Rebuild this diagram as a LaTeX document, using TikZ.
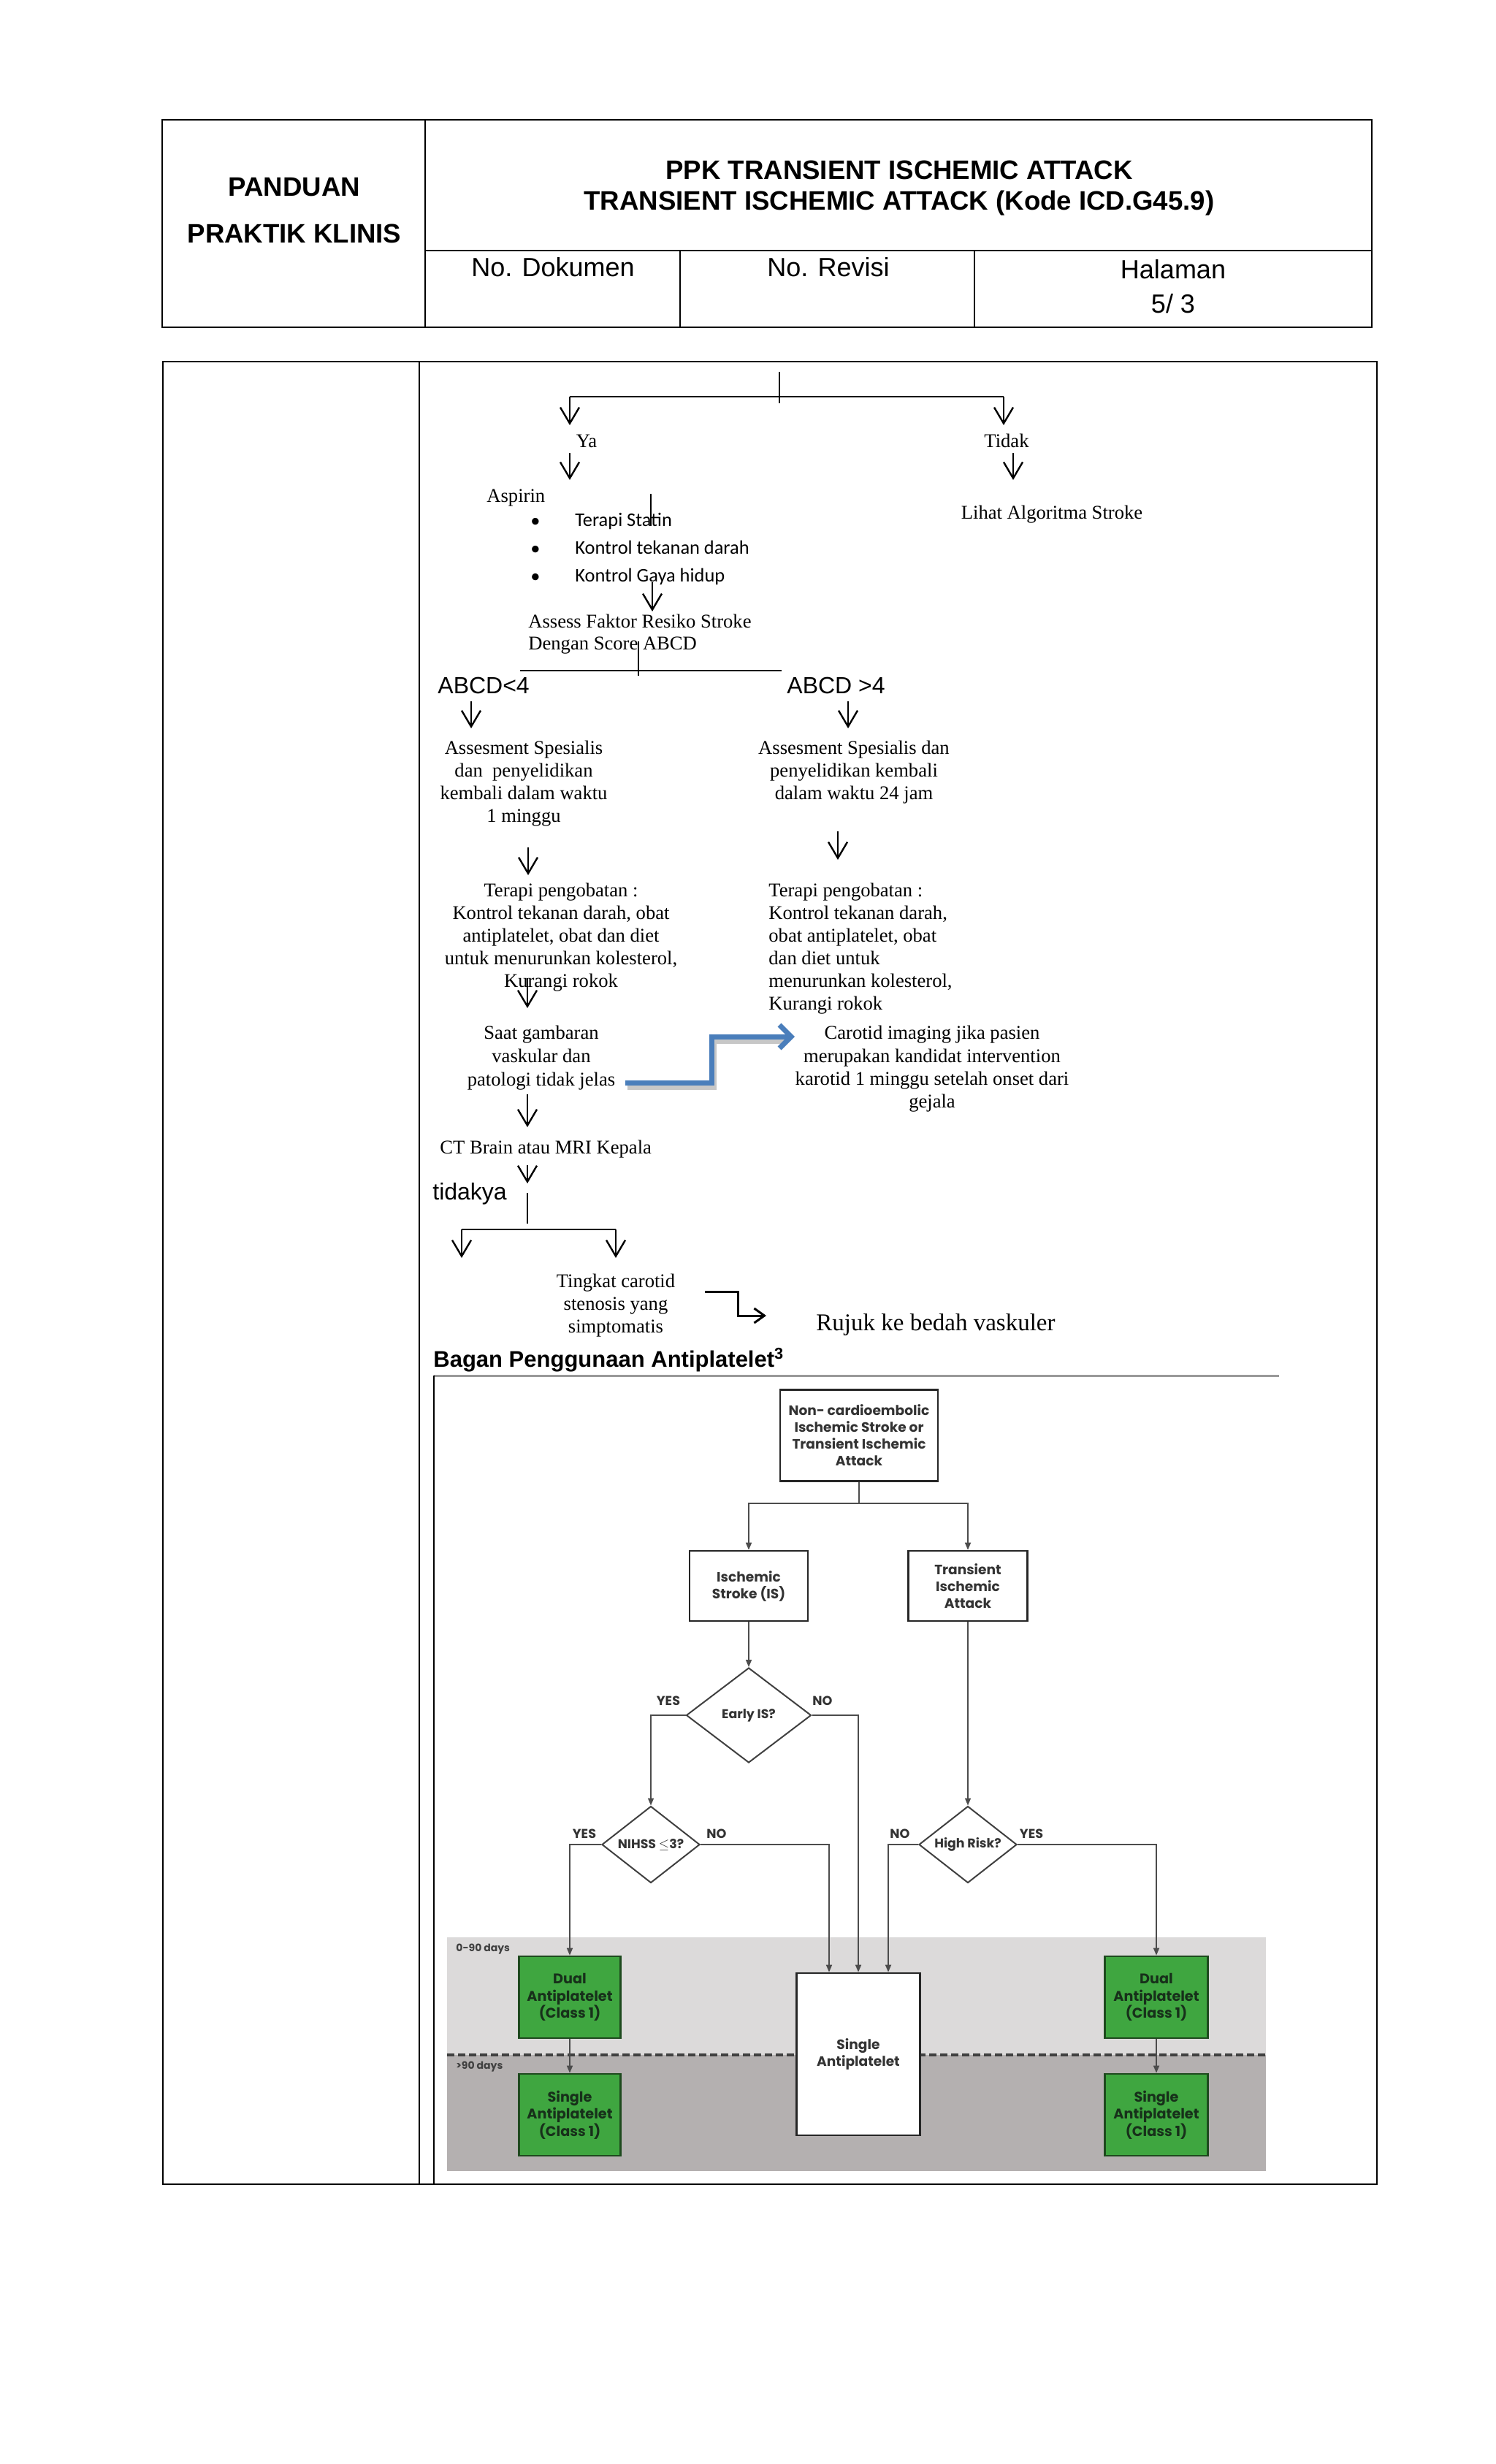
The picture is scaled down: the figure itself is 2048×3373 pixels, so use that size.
\documentclass[tikz,border=0pt]{standalone}
\usepackage{fontspec}
\setmainfont{Liberation Serif}
\newfontfamily\arialf{Liberation Sans}
\newfontfamily\calf{Carlito}
\newfontfamily\gothf{Poppins}
\usetikzlibrary{arrows.meta,shapes.geometric,calc}
\definecolor{cgreen}{HTML}{3FA640}
\definecolor{cgreenD}{HTML}{1E4A1E}
\definecolor{cgreenT}{HTML}{17301A}
\definecolor{cblue}{HTML}{4A7EBB}
\definecolor{bandA}{HTML}{DCDADA}
\definecolor{bandB}{HTML}{B4B0B0}
\begin{document}
\begin{tikzpicture}[x=0.5pt,y=-0.5pt,
  hb/.style={font=\arialf\bfseries\fontsize{18.3}{21}\selectfont, inner sep=0pt},
  hr/.style={font=\arialf\fontsize{18}{21}\selectfont, inner sep=0pt},
  tnr/.style={font=\fontsize{13.3}{15.4}\selectfont, inner sep=0pt, align=center},
  tnrl/.style={font=\fontsize{13.3}{15.4}\selectfont, inner sep=0pt, align=left},
  cal/.style={font=\calf\fontsize{13.2}{15}\selectfont, inner sep=0pt},
  arl/.style={font=\arialf\fontsize{16}{19}\selectfont, inner sep=0pt},
  ln/.style={line width=1.1pt},
  arr/.style={line width=1.2pt, -{Straight Barb[length=11pt,width=13pt]}},
  cbox/.style={draw=black!85, line width=1.3pt, fill=white, font=\gothf\bfseries\fontsize{9.3}{11.5}\selectfont, text=black!80, align=center, inner sep=0pt},
  gbox/.style={cbox, fill=cgreen, draw=cgreenD, text=cgreenT, font=\gothf\bfseries\fontsize{9.6}{11.8}\selectfont},
  dia/.style={diamond, aspect=1.3, draw=black!75, line width=1pt, fill=white, inner sep=0pt, font=\gothf\bfseries\fontsize{8.7}{10}\selectfont, text=black!80},
  lab/.style={font=\gothf\bfseries\fontsize{8.8}{10}\selectfont, text=black!80, inner sep=0pt},
  dlab/.style={font=\gothf\bfseries\fontsize{7}{8}\selectfont, text=black!75, inner sep=0pt},
  cl/.style={draw=black!70, line width=0.8pt},
  carr/.style={cl, -{Triangle[length=5pt,width=4pt]}}
]
\fill[white] (0,0) rectangle (2048,3373);
\useasboundingbox (0,0) rectangle (2048,3373);

% ---------- header ----------
\draw[line width=0.9pt] (222,164) rectangle (1878,448);
\draw[line width=0.6pt] (582,164) -- (582,448);
\draw[line width=0.6pt] (582,343) -- (1878,343);
\draw[line width=0.6pt] (931,343) -- (931,448);
\draw[line width=0.6pt] (1334,343) -- (1334,448);
\node[hb,anchor=base] (pan) at (403,268) {PANDUAN};
\node[hb,anchor=base] (pk) at (403,332) {PRAKTIK KLINIS};
\node[hb,anchor=base] (t1) at (1231,245) {PPK TRANSIENT ISCHEMIC ATTACK};
\node[hb,anchor=base] (t2) at (1231,287) {TRANSIENT ISCHEMIC ATTACK (Kode ICD.G45.9)};
\node[hr,anchor=base] (nd) at (757,378) {No. Dokumen};
\node[hr,anchor=base] (nr) at (1134,378) {No. Revisi};
\node[hr,anchor=base] (hal) at (1606,381) {Halaman};
\node[hr,anchor=base] (pg) at (1606,428) {5/ 3};

% ---------- main box ----------
\draw[line width=0.9pt] (223,495) rectangle (1885,2990);
\draw[line width=0.6pt] (574,495) -- (574,2990);

% ---------- text flowchart ----------
\coordinate (top0) at (1067,509);
\coordinate (top1) at (1067,552);
\draw[ln] (top0) -- (top1);
\coordinate (brL) at (780,543);
\coordinate (brR) at (1374,543);
\draw[ln] (brL) -- (brR);
\draw[arr] (brL) -- ++(0,39);
\draw[arr] (brR) -- ++(0,39);
\node[tnr,anchor=base] (ya) at (803,612) {Ya};
\node[tnr,anchor=base] (tidak) at (1378,612) {Tidak};
\draw[arr] (780,620) -- (780,657);
\draw[arr] (1387,620) -- (1387,657);
\node[tnr,anchor=base west] (asp) at (666,687) {Aspirin};
\node[tnr,anchor=base] (lihat) at (1440,710) {Lihat Algoritma Stroke};
\node[cal,anchor=base] (bu1) at (733,721) {•};
\node[cal,anchor=base] (bu2) at (733,759) {•};
\node[cal,anchor=base] (bu3) at (733,797) {•};
\node[cal,anchor=base west] (it1) at (787,720) {Terapi Statin};
\node[cal,anchor=base west] (it2) at (787,758) {Kontrol tekanan darah};
\node[cal,anchor=base west] (it3) at (787,796) {Kontrol Gaya hidup};
\draw[ln] (891,676) -- (891,720);
\draw[arr] (893,797) -- (893,837);
\node[tnrl,anchor=north west,font=\fontsize{13.3}{15}\selectfont] (assess) at (723,841) {Assess Faktor Resiko Stroke\\Dengan Score ABCD};
\draw[ln] (874,878) -- (874,925);
\draw[ln] (712,918) -- (1070,918);
\node[arl,anchor=base west] (abl) at (599,949) {ABCD<4};
\node[arl,anchor=base west] (abr) at (1077,949) {ABCD >4};
\draw[arr] (645,960) -- (645,997);
\draw[arr] (1161,960) -- (1161,997);
\node[tnr,anchor=north] (asl) at (717,1014) {Assesment Spesialis\\dan\ \ penyelidikan\\kembali dalam waktu\\1 minggu};
\node[tnr,anchor=north] (asr) at (1169,1014) {Assesment Spesialis dan\\penyelidikan kembali\\dalam waktu 24 jam};
\draw[arr] (723,1160) -- (723,1198);
\draw[arr] (1147,1138) -- (1147,1177);
\node[tnr,anchor=north,font=\fontsize{13.3}{15.5}\selectfont] (tpl) at (768,1209) {Terapi pengobatan :\\Kontrol tekanan darah, obat\\antiplatelet, obat dan diet\\untuk menurunkan kolesterol,\\Kurangi rokok};
\node[tnrl,anchor=north west,font=\fontsize{13.3}{15.5}\selectfont] (tpr) at (1052,1209) {Terapi pengobatan :\\Kontrol tekanan darah,\\obat antiplatelet, obat\\dan diet untuk\\menurunkan kolesterol,\\Kurangi rokok};
\draw[arr] (722,1339) -- (722,1380);
\node[tnr,anchor=north,font=\fontsize{13.3}{16}\selectfont] (saat) at (741,1404) {Saat gambaran\\vaskular dan\\patologi tidak jelas};
\node[tnr,anchor=north,font=\fontsize{13.3}{15.6}\selectfont] (car) at (1276,1404) {Carotid imaging jika pasien\\merupakan kandidat intervention\\karotid 1 minggu setelah onset dari\\gejala};
% blue bent arrow
\coordinate (bl0) at (856,1482);
\coordinate (bl1) at (974,1482);
\coordinate (bl2) at (974,1419);
\coordinate (bl3) at (1088,1419);
\draw[line width=3.5pt, black!22] ($(bl0)+(3,6)$) -- ($(bl1)+(3,6)$) -- ($(bl2)+(3,6)$) -- ($(bl3)+(-10,6)$);
\draw[line width=3.5pt, cblue, -{Straight Barb[length=8pt,width=16pt]}] (bl0) -- (bl1) -- (bl2) -- (bl3);
\draw[arr] (722,1498) -- (722,1543);
\node[tnr,anchor=base west] (ct) at (602,1579) {CT Brain atau MRI Kepala};
\draw[arr] (722,1595) -- (722,1620);
\node[arl,anchor=base west] (tdy) at (592,1642) {tidakya};
\draw[ln] (722,1633) -- (722,1675);
\coordinate (sp0) at (632,1683);
\coordinate (sp1) at (843,1683);
\draw[ln] (sp0) -- (sp1);
\draw[arr] (sp0) -- (632,1722);
\draw[arr] (sp1) -- (843,1722);
\node[tnr,anchor=north,font=\fontsize{13.3}{15.5}\selectfont] (ting) at (843,1744) {Tingkat carotid\\stenosis yang\\simptomatis};
\draw[line width=1.5pt, -{Straight Barb[length=7pt,width=10pt]}] (965,1768) -- (1010,1768) -- (1010,1801) -- (1049,1801);
\node[tnr,anchor=base west,font=\fontsize{16.5}{19}\selectfont] (rujuk) at (1117,1821) {Rujuk ke bedah vaskuler};
\node[anchor=base west,inner sep=0pt,font=\arialf\bfseries\fontsize{15.5}{18}\selectfont] (bagan) at (593,1871) {Bagan Penggunaan Antiplatelet\textsuperscript{3}};

% ---------- antiplatelet chart ----------
\draw[line width=1.5pt, black!40] (594,1883) -- (1751,1883);
\draw[line width=0.6pt] (594,1883) -- (594,2990);
\fill[bandA] (612,2652) rectangle (1733,2813);
\fill[bandB] (612,2813) rectangle (1733,2972);
\draw[line width=2pt, black!75, dash pattern=on 5pt off 2.5pt] (612,2813) -- (1733,2813);
\node[dlab,anchor=west] (d1) at (624,2668) {0-90 days};
\node[dlab,anchor=west] (d2) at (624,2829) {>90 days};

\node[cbox, minimum width=108pt, minimum height=62.5pt] (b1) at (1176,1965) {Non- cardioembolic\\Ischemic Stroke or\\Transient Ischemic\\Attack};
\node[cbox, minimum width=81pt, minimum height=48pt] (is) at (1025,2171) {Ischemic\\Stroke (IS)};
\node[cbox, minimum width=81.5pt, minimum height=48pt] (tia) at (1325,2171) {Transient\\Ischemic\\Attack};
\node[dia, minimum width=85.5pt, minimum height=65pt] (early) at (1025,2348) {Early IS?};
\node[dia, minimum width=67pt, minimum height=52.5pt] (nih) at (891,2525) {NIHSS {\normalfont$\le$}3?};
\node[dia, minimum width=67pt, minimum height=52.5pt] (hr) at (1325,2525) {High Risk?};
\node[gbox, minimum width=69.5pt, minimum height=56pt] (dl) at (780,2734) {Dual\\Antiplatelet\\(Class 1)};
\node[gbox, minimum width=69.5pt, minimum height=56pt] (sl) at (780,2895) {Single\\Antiplatelet\\(Class 1)};
\node[cbox, minimum width=84.5pt, minimum height=111pt] (sc) at (1175,2812) {Single\\Antiplatelet};
\node[gbox, minimum width=70.5pt, minimum height=56pt] (dr) at (1583,2734) {Dual\\Antiplatelet\\(Class 1)};
\node[gbox, minimum width=70.5pt, minimum height=56pt] (sr) at (1583,2895) {Single\\Antiplatelet\\(Class 1)};

\coordinate (jn) at (1176,2058);
\draw[cl] (b1.south) -- (jn);
\draw[carr] (jn) -| (is.north);
\draw[carr] (jn) -| (tia.north);
\draw[carr] (is.south) -- (early.north);
\draw[carr] (early.west) -| (nih.north);
\draw[carr] (early.east) -| (sc.north);
\draw[carr] (nih.west) -| (dl.north);
\draw[carr] (nih.east) -| ($(sc.north)+(-40,0)$);
\draw[carr] (tia.south) -- (hr.north);
\draw[carr] (hr.west) -| ($(sc.north)+(41,0)$);
\draw[carr] (hr.east) -| (dr.north);
\draw[carr] (dl.south) -- (sl.north);
\draw[carr] (dr.south) -- (sr.north);

\node[lab] (ey) at (915,2328) {YES};
\node[lab] (en) at (1126,2328) {NO};
\node[lab] (ny) at (800,2510) {YES};
\node[lab] (nn) at (981,2510) {NO};
\node[lab] (hn) at (1232,2510) {NO};
\node[lab] (hy) at (1412,2510) {YES};
\end{tikzpicture}
\end{document}
